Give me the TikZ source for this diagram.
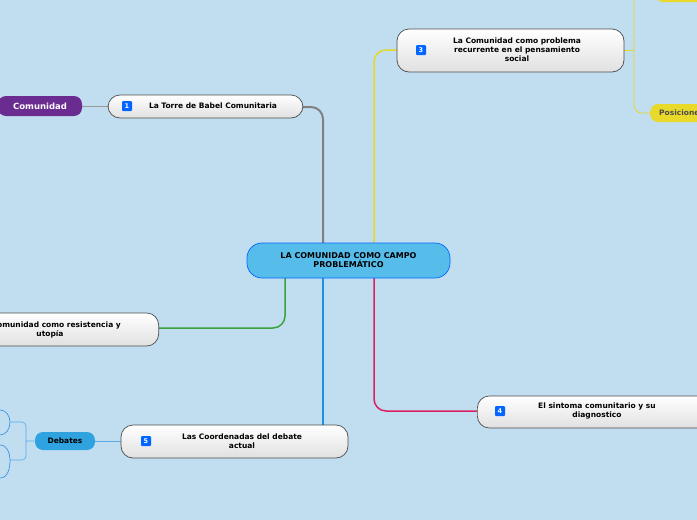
\documentclass[tikz,border=0pt]{standalone}
\usepackage{fontspec}
\setmainfont{DejaVu Sans}
\begin{document}
\begin{tikzpicture}[x=1pt,y=-1pt,
 topic/.style={draw=black!70,line width=0.7pt,rounded corners=12pt,top color=white,bottom color=black!12,font=\bfseries\fontsize{7.5}{8.5}\selectfont,align=center,inner sep=0pt},
 lbl/.style={font=\bfseries\fontsize{7.5}{9}\selectfont,align=center},
 icon/.style={fill=blue!60!cyan,rounded corners=1pt,text=white,font=\bfseries\fontsize{6.5}{6.5}\selectfont,minimum size=10pt,inner sep=0pt},
 pill/.style={rounded corners=8pt,font=\bfseries\fontsize{7.5}{8}\selectfont,inner sep=0pt}]
\useasboundingbox (0,0) rectangle (697,520);
\clip (0,0) rectangle (697,520);
\fill[color={rgb,255:red,193;green,222;blue,240}] (0,0) rectangle (697,520);
% connectors
\draw[gray,line width=2pt,rounded corners=12pt] (303,107) -- (323,107) -- (323,245);
\draw[color={rgb,255:red,230;green,215;blue,40},line width=1.5pt,rounded corners=12pt] (397,50) -- (374,50) -- (374,245);
\draw[color={rgb,255:red,230;green,215;blue,40},line width=0.8pt] (624,50) -- (634,50);
\draw[color={rgb,255:red,230;green,215;blue,40},line width=0.8pt,rounded corners=8pt] (634,0) -- (634,113) -- (652,113);
\draw[color={rgb,255:red,60;green,160;blue,60},line width=1.5pt,rounded corners=12pt] (285,276) -- (285,328) -- (159,328);
\draw[color={rgb,255:red,30;green,144;blue,230},line width=2pt] (323,276) -- (323,427);
\draw[color={rgb,255:red,220;green,30;blue,100},line width=1.5pt,rounded corners=12pt] (374,276) -- (374,411) -- (477,411);
\draw[gray!80,line width=0.6pt] (82,106) -- (108,106);
\draw[color={rgb,255:red,90;green,170;blue,230},line width=0.6pt] (95,441) -- (121,441);
\draw[color={rgb,255:red,90;green,170;blue,230},line width=0.6pt,rounded corners=4pt] (35,441) -- (26,441) (10,422) -- (26,422) -- (26,460) -- (10,460);
\draw[color={rgb,255:red,60;green,150;blue,230},line width=0.7pt] (0,410) to[out=0,in=90] (10,422) to[out=-90,in=0] (0,435);
\draw[color={rgb,255:red,60;green,150;blue,230},line width=0.7pt] (0,445) to[out=0,in=90] (10,460) to[out=-90,in=0] (0,478);
% nodes
\node[draw=blue!60!cyan,line width=0.7pt,fill={rgb,255:red,86;green,189;blue,234},rounded corners=15pt,minimum width=203pt,minimum height=35pt,font=\bfseries\fontsize{8}{9}\selectfont,align=center] (c) at (348.5,260.5) {LA COMUNIDAD COMO CAMPO\\PROBLEMÁTICO};
\node[topic,minimum width=195pt,minimum height=23pt] (t1) at (205.5,106.5) {};
\node[icon] at (127,106) {1};
\node[lbl] at (213,106) {La Torre de Babel Comunitaria};
\node[pill,fill={rgb,255:red,107;green,44;blue,145},text=white,minimum width=84pt,minimum height=20pt] (com) at (40,106) {\fontsize{8.5}{9}\selectfont Comunidad};
\node[topic,minimum width=227pt,minimum height=43pt] (t3) at (510.5,50.5) {};
\node[icon] at (421,50) {3};
\node[lbl] at (517,50) {La Comunidad como problema\\recurrente en el pensamiento\\social};
\node[pill,fill={rgb,255:red,232;green,217;blue,42},minimum width=80pt,minimum height=18pt,anchor=west] (y1) at (655,-7) {};
\node[pill,fill={rgb,255:red,232;green,217;blue,42},text=black!70,minimum width=80pt,minimum height=18pt,anchor=west,text width=70pt] (pos) at (650,113) {\hspace*{4pt}Posiciones};
\node[topic,minimum width=210pt,minimum height=33pt,anchor=east] (t2) at (159,329.5) {};
\node[lbl] at (50,329.5) {La Comunidad como resistencia y\\utopía};
\node[topic,minimum width=240pt,minimum height=32pt,anchor=west] (t4) at (477,412) {};
\node[icon] at (500,411) {4};
\node[lbl] at (597,411) {El sintoma comunitario y su\\diagnostico};
\node[topic,minimum width=227pt,minimum height=33pt] (t5) at (234.5,441.5) {};
\node[icon] at (146,441) {5};
\node[lbl] at (242,441) {Las Coordenadas del debate\\actual};
\node[pill,fill={rgb,255:red,46;green,163;blue,224},minimum width=60pt,minimum height=18pt] (deb) at (65,441) {Debates};
\end{tikzpicture}
\end{document}
